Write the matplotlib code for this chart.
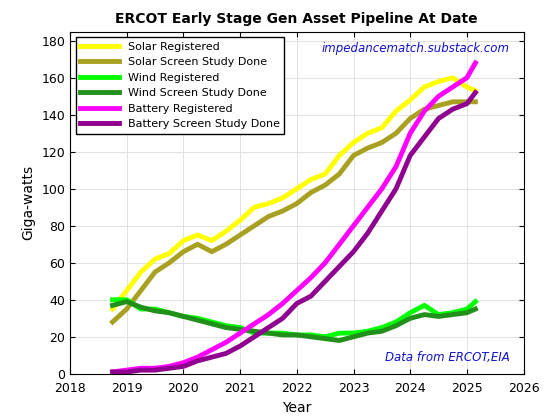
import matplotlib
matplotlib.use("Agg")
import matplotlib.pyplot as plt

years = [2018.75, 2019.0, 2019.25, 2019.5, 2019.75, 2020.0, 2020.25, 2020.5, 2020.75, 2021.0,
         2021.25, 2021.5, 2021.75, 2022.0, 2022.25, 2022.5, 2022.75, 2023.0, 2023.25, 2023.5,
         2023.75, 2024.0, 2024.25, 2024.5, 2024.75, 2025.0, 2025.15]
solar_reg = [35,45,55,62,65,72,75,72,77,83,90,92,95,100,105,108,118,125,130,133,142,148,155,158,160,155,153]
solar_scr = [28,35,45,55,60,66,70,66,70,75,80,85,88,92,98,102,108,118,122,125,130,138,143,145,147,147,147]
wind_reg = [40,40,35,35,33,31,30,28,26,25,22,22,22,21,21,20,22,22,23,25,28,33,37,32,33,35,39]
wind_scr = [37,39,36,34,33,31,29,27,25,24,23,22,21,21,20,19,18,20,22,23,26,30,32,31,32,33,35]
batt_reg = [1,2,3,3,4,6,9,13,17,22,27,32,38,45,52,60,70,80,90,100,112,130,142,150,155,160,168]
batt_scr = [1,1,2,2,3,4,7,9,11,15,20,25,30,38,42,50,58,66,76,88,100,118,128,138,143,146,152]

series = [("Solar Registered", solar_reg, "#ffff00"),
          ("Solar Screen Study Done", solar_scr, "#a8a020"),
          ("Wind Registered", wind_reg, "#00ff00"),
          ("Wind Screen Study Done", wind_scr, "#20901a"),
          ("Battery Registered", batt_reg, "#ff00ff"),
          ("Battery Screen Study Done", batt_scr, "#900090")]

fig = plt.figure(figsize=(5.6, 4.2), dpi=100)
ax = fig.add_axes([0.125, 0.11, 0.81, 0.815])
for name, v, c in series:
    ax.plot(years, v, color=c, lw=3.5, label=name)
ax.set_xlim(2018, 2026)
ax.set_ylim(0, 185)
ax.set_xticks(range(2018, 2027))
ax.set_yticks(range(0, 181, 20))
ax.grid(True, color="#dddddd", lw=0.6)
ax.tick_params(labelsize=9, direction="in", top=True, right=True)
ax.tick_params(axis="x", pad=6)
ax.set_xlabel("Year", fontsize=10)
ax.set_ylabel("Giga-watts", fontsize=10)
ax.set_title("ERCOT Early Stage Gen Asset Pipeline At Date", fontsize=10, fontweight="bold")
ax.legend(loc="upper left", fontsize=8, fancybox=False, edgecolor="black", framealpha=1, handlelength=3.5)
ax.text(0.97, 0.97, "impedancematch.substack.com", transform=ax.transAxes, ha="right", va="top",
        color="#1010cc", fontsize=8.5, style="italic")
ax.text(0.97, 0.03, "Data from ERCOT,EIA", transform=ax.transAxes, ha="right", va="bottom",
        color="#1010cc", fontsize=8.5, style="italic")
fig.savefig("out.png", dpi=100)
